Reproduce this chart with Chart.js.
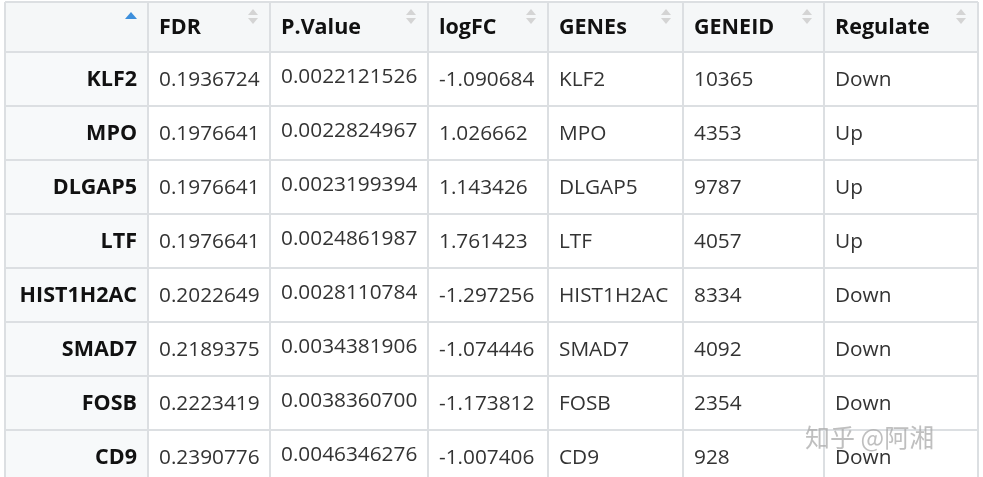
<!DOCTYPE html>
<html>
<head>
<meta charset="utf-8">
<script src="https://cdn.jsdelivr.net/npm/chart.js@4"></script>
<style>
html, body { margin: 0; padding: 0; background: #fff; }
#wrap { width: 983px; height: 477px; }
</style>
</head>
<body>
<div id="wrap"><canvas id="tbl"></canvas></div>
<script>
const columns = ['', 'FDR', 'P.Value', 'logFC', 'GENEs', 'GENEID', 'Regulate'];
const rowNames = ['KLF2', 'MPO', 'DLGAP5', 'LTF', 'HIST1H2AC', 'SMAD7', 'FOSB', 'CD9'];
const fdr = ['0.1936724', '0.1976641', '0.1976641', '0.1976641', '0.2022649', '0.2189375', '0.2223419', '0.2390776'];
const pValue = ['0.0022121526', '0.0022824967', '0.0023199394', '0.0024861987', '0.0028110784', '0.0034381906', '0.0038360700', '0.0046346276'];
const logFC = ['-1.090684', '1.026662', '1.143426', '1.761423', '-1.297256', '-1.074446', '-1.173812', '-1.007406'];
const genes = ['KLF2', 'MPO', 'DLGAP5', 'LTF', 'HIST1H2AC', 'SMAD7', 'FOSB', 'CD9'];
const geneId = ['10365', '4353', '9787', '4057', '8334', '4092', '2354', '928'];
const regulate = ['Down', 'Up', 'Up', 'Up', 'Down', 'Down', 'Down', 'Down'];

// layout (pixels)
const colEdges = [5, 148, 270, 428, 548, 683, 824, 978];
const headerTop = 2, headerBottom = 52, rowH = 54;
const FONT = '"Segoe UI", "Open Sans", "Noto Sans", sans-serif';

const tablePlugin = {
  id: 'tablePlugin',
  afterDraw(chart) {
    const ctx = chart.ctx, xs = chart.scales.x, ys = chart.scales.y;
    const X = v => xs.getPixelForValue(v), Y = v => ys.getPixelForValue(v);
    const cols = [rowNames, fdr, pValue, logFC, genes, geneId, regulate];
    const bottom = 477;
    ctx.save();
    // backgrounds
    ctx.fillStyle = '#f5f7f8';
    ctx.fillRect(X(colEdges[0]), Y(headerTop), X(colEdges[7]) - X(colEdges[0]), Y(headerBottom) - Y(headerTop));
    ctx.fillStyle = '#f7f9fa';
    ctx.fillRect(X(colEdges[0]), Y(headerBottom), X(colEdges[1]) - X(colEdges[0]), Y(bottom) - Y(headerBottom));
    // grid
    ctx.strokeStyle = '#dcdfe2';
    ctx.lineWidth = 2;
    ctx.beginPath();
    colEdges.forEach(e => { ctx.moveTo(X(e), Y(headerTop)); ctx.lineTo(X(e), Y(bottom)); });
    ctx.moveTo(X(colEdges[0]), Y(headerTop)); ctx.lineTo(X(colEdges[7]), Y(headerTop));
    for (let i = 0; i <= rowNames.length; i++) {
      const yy = headerBottom + i * rowH;
      ctx.moveTo(X(colEdges[0]), Y(yy)); ctx.lineTo(X(colEdges[7]), Y(yy));
    }
    ctx.stroke();
    // header
    ctx.textBaseline = 'middle';
    ctx.font = 'bold 21.5px ' + FONT;
    ctx.fillStyle = '#111';
    columns.forEach((c, i) => {
      if (!c) return;
      ctx.textAlign = 'left';
      ctx.fillText(c, X(colEdges[i] + 11), Y(28));
      const ax = X(colEdges[i + 1] - 17);
      ctx.fillStyle = '#d4d4d4';
      ctx.beginPath(); ctx.moveTo(ax - 5, Y(15)); ctx.lineTo(ax + 5, Y(15)); ctx.lineTo(ax, Y(9)); ctx.fill();
      ctx.beginPath(); ctx.moveTo(ax - 5, Y(18)); ctx.lineTo(ax + 5, Y(18)); ctx.lineTo(ax, Y(24)); ctx.fill();
      ctx.fillStyle = '#111';
    });
    const bx = X(131);
    ctx.fillStyle = '#3d8fdc';
    ctx.beginPath(); ctx.moveTo(bx - 6, Y(19)); ctx.lineTo(bx + 6, Y(19)); ctx.lineTo(bx, Y(12)); ctx.fill();
    // body
    for (let r = 0; r < rowNames.length; r++) {
      const cy = Y(headerBottom + r * rowH + rowH / 2 + 1);
      cols.forEach((arr, i) => {
        if (i === 0) {
          ctx.font = 'bold 21.5px ' + FONT; ctx.fillStyle = '#111'; ctx.textAlign = 'right';
          ctx.fillText(arr[r], X(colEdges[1] - 11), cy);
        } else {
          ctx.font = '20.8px ' + FONT; ctx.fillStyle = '#333'; ctx.textAlign = 'left';
          ctx.fillText(arr[r], X(colEdges[i] + 11), i === 2 ? cy - 3 : cy);
        }
      });
    }
    // watermark
    ctx.font = '25px "Noto Sans CJK SC", sans-serif';
    ctx.fillStyle = 'rgba(170,170,170,0.75)';
    ctx.textAlign = 'left';
    ctx.fillText('知乎 @阿湘', X(805), Y(437));
    ctx.restore();
  }
};

new Chart(document.getElementById('tbl'), {
  type: 'scatter',
  data: { datasets: [{ data: [] }] },
  options: {
    responsive: true,
    maintainAspectRatio: false,
    animation: false,
    layout: { padding: 0 },
    plugins: { legend: { display: false }, tooltip: { enabled: false } },
    scales: {
      x: { type: 'linear', min: 0, max: 983, display: false },
      y: { type: 'linear', min: 0, max: 477, reverse: true, display: false }
    }
  },
  plugins: [tablePlugin]
});
</script>
</body>
</html>
